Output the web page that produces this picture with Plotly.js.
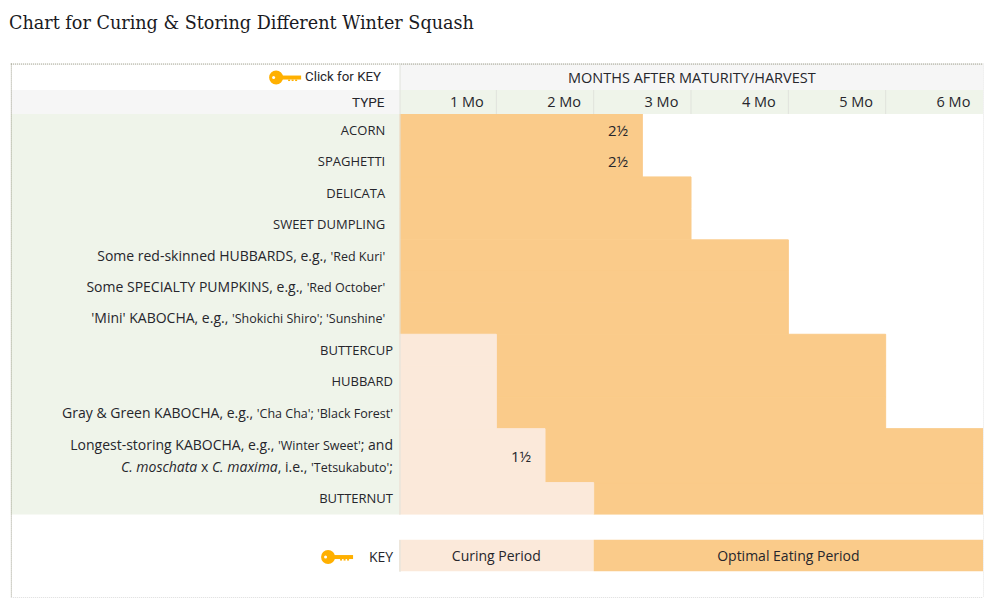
<!DOCTYPE html>
<html><head><meta charset="utf-8">
<script src="https://cdn.plot.ly/plotly-3.0.1.min.js"></script>
<style>html,body{margin:0;padding:0;background:#fff}#c{width:1000px;height:607px}</style></head>
<body><div id="c"></div>
<script>
var TITLE = "Chart for Curing & Storing Different Winter Squash";
var rowLabels = [
 "<span style='font-size:13px'>ACORN</span>",
 "<span style='font-size:13px'>SPAGHETTI</span>",
 "<span style='font-size:13px'>DELICATA</span>",
 "<span style='font-size:13px'>SWEET DUMPLING</span>",
 "Some red-skinned HUBBARDS, e.g., <span style='font-size:12.5px'>'Red Kuri'</span>",
 "Some SPECIALTY PUMPKINS, e.g., <span style='font-size:12.5px'>'Red October'</span>",
 "'Mini' KABOCHA, e.g., <span style='font-size:12.5px'>'Shokichi Shiro'; 'Sunshine'</span>",
 "<span style='font-size:13px'>BUTTERCUP</span>",
 "<span style='font-size:13px'>HUBBARD</span>",
 "Gray &amp; Green KABOCHA, e.g., <span style='font-size:12.5px'>'Cha Cha'; 'Black Forest'</span>",
 "Longest-storing KABOCHA, e.g., <span style='font-size:12.5px'>'Winter Sweet'</span>; and<br><i>C. moschata</i> x <i>C. maxima</i>, i.e., <span style='font-size:12.5px'>'Tetsukabuto'</span>;",
 "<span style='font-size:13px'>BUTTERNUT</span>"
];
var rowSpans   = [1,1,1,1,1,1,1,1,1,1,1.714,1];
var curingEnd  = [0,0,0,0,0,0,0,1,1,1,1.5,2];
var storageEnd = [2.5,2.5,3,3,4,4,4,5,5,5,6,6];
var monthVals  = [1,2,3,4,5,6];
var monthLabels= ["1 Mo","2 Mo","3 Mo","4 Mo","5 Mo","6 Mo"];
var keyLabels  = ["Curing Period","Optimal Eating Period"];
var keyEnds    = [2,6];
var keyRowY = 14.03, keyRowSpan = 1.0;

var W=1000,H=607,L=398.5,R=983,T=113.5,B=597;
var fx=function(p){return (p-L)/(R-L)}, fy=function(p){return (B-p)/(B-T)};
var INK='#26262c', SANS='"Open Sans", sans-serif', ROB='Roboto, sans-serif';
var ORANGE='#FACB8A', PEACH='#FBE9DA', GREEN='#EFF4EA', GREY='#F6F6F6', RULE='#E0E3DC';

var centers=[], acc=0;
rowSpans.forEach(function(s){centers.push(acc+s/2);acc+=s;});

var INDENT="<span style='font-size:15px'>&nbsp;&nbsp;</span>";
var tickY=[], tickT=[];
rowLabels.forEach(function(t,i){
 var parts=t.split('<br>');
 parts.forEach(function(p,j){
  tickY.push(parts.length>1 ? centers[i]+(j-0.5)*0.7 : centers[i]);
  tickT.push(i<7 ? p+INDENT : p);
 });
});

var traces=[
 {type:'bar',orientation:'h',y:centers,x:storageEnd.map(function(e,i){return e-curingEnd[i]}),base:curingEnd,width:rowSpans,
  marker:{color:ORANGE,line:{width:1,color:ORANGE}},hoverinfo:'skip'},
 {type:'bar',orientation:'h',y:centers,x:curingEnd,base:0,width:rowSpans,
  marker:{color:PEACH,line:{width:1,color:PEACH}},hoverinfo:'skip'},
 {type:'bar',orientation:'h',y:[keyRowY],x:[keyEnds[0]],base:[0],width:[keyRowSpan],text:[keyLabels[0]],
  textposition:'inside',insidetextanchor:'middle',textangle:0,constraintext:'none',
  textfont:{family:SANS,size:14,color:INK},marker:{color:PEACH,line:{width:0}},hoverinfo:'skip'},
 {type:'bar',orientation:'h',y:[keyRowY],x:[keyEnds[1]-keyEnds[0]],base:[keyEnds[0]],width:[keyRowSpan],text:[keyLabels[1]],
  textposition:'inside',insidetextanchor:'middle',textangle:0,constraintext:'none',
  textfont:{family:SANS,size:14,color:INK},marker:{color:ORANGE,line:{width:0}},hoverinfo:'skip'}
];

function rect(x0,y0,x1,y1,c){return {type:'rect',xref:'paper',yref:'paper',x0:fx(x0),x1:fx(x1),y0:fy(y0),y1:fy(y1),fillcolor:c,line:{width:0},layer:'below'};}
function line(x0,y0,x1,y1,c,dash){return {type:'line',xref:'paper',yref:'paper',x0:fx(x0),x1:fx(x1),y0:fy(y0),y1:fy(y1),line:{color:c,width:1,dash:dash||'solid'},layer:'above'};}
function keyIcon(ox,oy){
 var a=[];
 function part(sh,x0,y0,x1,y1,c){a.push({type:sh,xref:'paper',yref:'paper',xsizemode:'pixel',ysizemode:'pixel',xanchor:fx(ox),yanchor:fy(oy),x0:x0,x1:x1,y0:-y0,y1:-y1,fillcolor:c,line:{width:0},layer:'above'});}
 part('circle',0,-7,14,7,'#FFB000');
 part('rect',12,-2,32,2,'#FFB000');
 part('rect',19,2,21,3.5,'#FFB000');
 part('rect',22.5,2,24.5,3.5,'#FFB000');
 part('rect',26,2,28,3.5,'#FFB000');
 part('circle',3,-1.5,6,1.5,'#FFFFFF');
 return a;
}
var shapes=[
 rect(10,113.5,399.5,514.5,GREEN),
 rect(10,89.5,399.5,113.5,GREY),
 rect(399.5,63,983,89.5,GREY),
 rect(399.5,89.5,983,113.5,GREEN),
 line(10,63.5,983,63.5,'#8F8F78','1px,1px'),
 line(10.5,63,10.5,597,'#9A9A88','1px,1px'),
 line(10,597.5,983,597.5,'#DDDDDD','1px,1px'),
 line(983.5,63,983.5,597,'#E4E4E4','1px,1px'),
 line(399.5,63,399.5,514.5,RULE),
 line(399.5,540,399.5,572,RULE)
];
monthVals.slice(0,5).forEach(function(m){
 shapes.push({type:'line',xref:'x',yref:'paper',x0:m,x1:m,y0:1,y1:fy(89.5),line:{color:RULE,width:1},layer:'above'});
});
shapes=shapes.concat(keyIcon(268.5,77),keyIcon(320.5,557));

function note(x,y,t,opt){return Object.assign({xref:'paper',yref:'paper',x:fx(x),y:fy(y),text:t,showarrow:false,
  xanchor:'right',yanchor:'middle',font:{family:ROB,size:14,color:INK}},opt||{});}
var annotations=[
 note(382.5,76,'Click for KEY',{font:{family:ROB,size:13.3,color:INK}}),
 note(386.5,101,'TYPE',{font:{family:ROB,size:13.5,color:INK}}),
 note(394.5,556.5,'KEY',{font:{family:SANS,size:14,color:INK}}),
 note(691.5,77,'MONTHS AFTER MATURITY/HARVEST',{xanchor:'center',font:{family:SANS,size:14.5,color:INK}})
];
[[2.5,0],[2.5,1],[1.5,10]].forEach(function(p){
 annotations.push({xref:'x',yref:'y',x:p[0],y:centers[p[1]],text:p[0]===2.5?'2½':'1½',showarrow:false,xanchor:'right',yanchor:'middle',xshift:-12,
  font:{family:SANS,size:15,color:INK}});
});

Plotly.newPlot('c',traces,{
 width:W,height:H,showlegend:false,paper_bgcolor:'#fff',plot_bgcolor:'rgba(0,0,0,0)',barmode:'overlay',
 margin:{l:L,r:W-R,t:T,b:H-B,pad:0},
 title:{text:TITLE,x:9/W,xanchor:'left',y:1-23/H,yanchor:'middle',font:{family:'"DejaVu Serif", serif',size:17.6,color:'#1a1a22'}},
 xaxis:{side:'top',range:[0,6],tickvals:monthVals,ticktext:monthLabels.map(function(s){return s+"&nbsp;&nbsp;&nbsp;<span style='font-size:5px'>&nbsp;</span>"}),
  ticklabelposition:'outside left',ticklabelstandoff:3,ticks:'',showgrid:false,zeroline:false,showline:false,
  tickfont:{family:SANS,size:14.5,color:INK},fixedrange:true},
 yaxis:{range:[(B-T)/31.5,0],tickvals:tickY,ticktext:tickT,ticks:'',showgrid:false,zeroline:false,showline:false,automargin:false,
  ticklabelstandoff:5,tickfont:{family:SANS,size:14,color:INK},fixedrange:true},
 shapes:shapes,annotations:annotations
},{displayModeBar:false,staticPlot:true});
</script></body></html>
